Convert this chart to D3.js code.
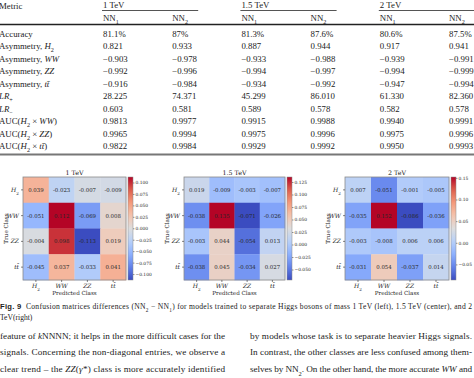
<!DOCTYPE html>
<html>
<head>
<meta charset="utf-8">
<script src="https://cdn.jsdelivr.net/npm/d3@7"></script>
<style>
  body { margin: 0; background: #fff; }
  svg { display: block; }
</style>
</head>
<body>
<div id="chart"></div>
<script>
// ---- table data ----
const metrics = [
  "Accuracy",
  "Asymmetry, <i>H</i><sub>2</sub>",
  "Asymmetry, <i>WW</i>",
  "Asymmetry, <i>ZZ</i>",
  "Asymmetry, <i>tt\u0304</i>",
  "<i>LR</i><sub>+</sub>",
  "<i>LR</i><sub>\u2212</sub>",
  "AUC(<i>H</i><sub>2</sub> \u00d7 <i>WW</i>)",
  "AUC(<i>H</i><sub>2</sub> \u00d7 <i>ZZ</i>)",
  "AUC(<i>H</i><sub>2</sub> \u00d7 <i>tt\u0304</i>)"
];
const energies = ["1 TeV", "1.5 TeV", "2 TeV"];
const nn1_1TeV = ["81.1%", "0.821", "\u22120.903", "\u22120.992", "\u22120.916", "28.225", "0.603", "0.9813", "0.9965", "0.9822"];
const nn2_1TeV = ["87%", "0.933", "\u22120.978", "\u22120.996", "\u22120.984", "74.371", "0.581", "0.9977", "0.9994", "0.9984"];
const nn1_15TeV = ["81.3%", "0.887", "\u22120.933", "\u22120.994", "\u22120.934", "45.299", "0.589", "0.9915", "0.9975", "0.9929"];
const nn2_15TeV = ["87.6%", "0.944", "\u22120.988", "\u22120.997", "\u22120.992", "86.010", "0.578", "0.9988", "0.9996", "0.9992"];
const nn1_2TeV = ["80.6%", "0.917", "\u22120.939", "\u22120.994", "\u22120.947", "61.330", "0.582", "0.9940", "0.9975", "0.9950"];
const nn2_2TeV = ["87.5%", "0.941", "\u22120.991", "\u22120.999", "\u22120.994", "82.360", "0.578", "0.9991", "0.9996", "0.9993"];

// ---- confusion matrix differences (NN2 - NN1), rows = true, cols = predicted ----
const classes = ["<i>H</i><sub>2</sub>", "<i>WW</i>", "<i>ZZ</i>", "<i>tt\u0304</i>"];
const diff1TeV = [
  [0.039, -0.023, -0.007, -0.009],
  [-0.051, 0.112, -0.069, 0.008],
  [-0.004, 0.098, -0.113, 0.019],
  [-0.045, 0.037, -0.033, 0.041]
];
const diff15TeV = [
  [0.019, -0.009, -0.003, -0.007],
  [-0.038, 0.135, -0.071, -0.026],
  [-0.003, 0.044, -0.054, 0.013],
  [-0.038, 0.045, -0.034, 0.027]
];
const diff2TeV = [
  [0.007, -0.051, -0.001, -0.005],
  [-0.035, 0.152, -0.086, -0.036],
  [-0.003, -0.008, 0.006, 0.006],
  [-0.031, 0.054, -0.037, 0.014]
];
const cbTicks1 = [-0.1, -0.075, -0.05, -0.025, 0, 0.025, 0.05, 0.075, 0.1];
const cbTicks15 = [-0.05, -0.025, 0, 0.025, 0.05, 0.075, 0.1, 0.125];
const cbTicks2 = [-0.05, 0, 0.05, 0.1, 0.15];

// coolwarm stops
const coolwarm = ["#3b4cc0", "#6282ea", "#8db0fe", "#b8d0f9", "#dddddd", "#f5c4ad", "#f49a7b", "#de604d", "#b40426"];

const W = 474, H = 378;
const serif = "'Liberation Serif', 'Times New Roman', serif";
const mplSerif = "'DejaVu Serif', serif";

const svg = d3.select("#chart").append("svg")
  .attr("width", W)
  .attr("height", H)
  .style("background", "#fff");

// tiny markup -> tspans
function rich(sel, str) {
  const re = /<(i|sub)>(.*?)<\/\1>|([^<]+)/g;
  let m;
  while ((m = re.exec(str))) {
    if (m[3]) sel.append("tspan").text(m[3]);
    else if (m[1] === "i") sel.append("tspan").style("font-style", "italic").text(m[2]);
    else sel.append("tspan").attr("baseline-shift", "sub").style("font-size", "70%").text(m[2]);
  }
  return sel;
}

// ================= table =================
const table = svg.append("g").style("font-family", serif).style("font-size", "8.8px").attr("fill", "#222");

const colData = [nn1_1TeV, nn2_1TeV, nn1_15TeV, nn2_15TeV, nn1_2TeV, nn2_2TeV];
const colX = d3.scalePoint().domain(d3.range(colData.length)).range([103, 449]);
const rowY = d3.scalePoint().domain(d3.range(metrics.length)).range([37, 149]);

table.append("text").attr("x", -1).attr("y", 8.5).text("Metric");

energies.forEach((e, i) => {
  const x0 = colX(i * 2);
  table.append("text").attr("x", x0).attr("y", 8).text(e);
  table.append("line")
    .attr("x1", x0 - 1).attr("x2", colX(i * 2 + 1) + 26)
    .attr("y1", 10.5).attr("y2", 10.5)
    .attr("stroke", "#555").attr("stroke-width", 1);
});

colData.forEach((col, j) => {
  rich(table.append("text").attr("x", colX(j)).attr("y", 20.5), j % 2 === 0 ? "NN<sub>1</sub>" : "NN<sub>2</sub>");
  table.selectAll(null)
    .data(col)
    .join("text")
    .attr("x", colX(j))
    .attr("y", (d, i) => rowY(i))
    .text(d => d);
});

table.append("line").attr("x1", 0).attr("x2", W).attr("y1", 24.5).attr("y2", 24.5)
  .attr("stroke", "#222").attr("stroke-width", 1.3);
table.append("line").attr("x1", 0).attr("x2", W).attr("y1", 154.5).attr("y2", 154.5)
  .attr("stroke", "#777").attr("stroke-width", 2);

metrics.forEach((m, i) => {
  rich(table.append("text").attr("x", -1).attr("y", rowY(i)), m);
});

// ================= heatmaps =================
const panels = [
  { title: "1 TeV", data: diff1TeV, ticks: cbTicks1, fmt: ".3f", x0: 23, w: 103 },
  { title: "1.5 TeV", data: diff15TeV, ticks: cbTicks15, fmt: ".3f", x0: 184, w: 101 },
  { title: "2 TeV", data: diff2TeV, ticks: cbTicks2, fmt: ".2f", x0: 345, w: 104 }
];
const hmTop = 177, hmH = 103;

panels.forEach(p => {
  const g = svg.append("g").style("font-family", mplSerif).attr("fill", "#222");
  const flat = p.data.flat();
  const lo = d3.min(flat), hi = d3.max(flat);
  const color = d3.scaleSequential(d3.piecewise(d3.interpolateRgb, coolwarm)).domain([lo, hi]);

  const x = d3.scaleBand().domain(d3.range(4)).range([p.x0, p.x0 + p.w]);
  const y = d3.scaleBand().domain(d3.range(4)).range([hmTop, hmTop + hmH]);

  const cells = p.data.flatMap((row, i) => row.map((v, j) => ({ i, j, v })));
  g.selectAll("rect.cell")
    .data(cells)
    .join("rect")
    .attr("class", "cell")
    .attr("x", d => x(d.j))
    .attr("y", d => y(d.i))
    .attr("width", x.bandwidth() + 0.3)
    .attr("height", y.bandwidth() + 0.3)
    .attr("fill", d => color(d.v));

  g.selectAll("text.val")
    .data(cells)
    .join("text")
    .attr("class", "val")
    .attr("x", d => x(d.j) + x.bandwidth() / 2)
    .attr("y", d => y(d.i) + y.bandwidth() / 2)
    .attr("text-anchor", "middle")
    .attr("dominant-baseline", "central")
    .style("font-size", "5.4px")
    .attr("fill", "#262626")
    .text(d => d3.format(".3f")(d.v).replace("\u2212", "-"));

  g.append("rect")
    .attr("x", p.x0).attr("y", hmTop).attr("width", p.w).attr("height", hmH)
    .attr("fill", "none").attr("stroke", "#8a8a8a").attr("stroke-width", 0.8);

  // axis ticks
  const yAxis = g.append("g").attr("transform", `translate(${p.x0},0)`)
    .call(d3.axisLeft(y).tickSize(2).tickPadding(2).tickFormat(() => ""));
  yAxis.select(".domain").remove();
  yAxis.selectAll(".tick line").attr("stroke", "#333").attr("stroke-width", 0.6);
  yAxis.selectAll(".tick").each(function (d) {
    rich(d3.select(this).append("text")
      .attr("x", -4).attr("dy", "0.35em")
      .attr("text-anchor", "end")
      .attr("fill", "#222")
      .style("font-size", "6px")
      .style("font-family", mplSerif), classes[d]);
  });

  const xAxis = g.append("g").attr("transform", `translate(0,${hmTop + hmH})`)
    .call(d3.axisBottom(x).tickSize(2).tickPadding(2).tickFormat(() => ""));
  xAxis.select(".domain").remove();
  xAxis.selectAll(".tick line").attr("stroke", "#333").attr("stroke-width", 0.6);
  xAxis.selectAll(".tick").each(function (d) {
    rich(d3.select(this).append("text")
      .attr("y", 8)
      .attr("text-anchor", "middle")
      .attr("fill", "#222")
      .style("font-size", "6px")
      .style("font-family", mplSerif), classes[d]);
  });

  g.append("text")
    .attr("x", p.x0 + p.w / 2).attr("y", 174.5)
    .attr("text-anchor", "middle")
    .style("font-size", "6.3px")
    .text(p.title);

  g.append("text")
    .attr("x", p.x0 + p.w / 2).attr("y", hmTop + hmH + 14.5)
    .attr("text-anchor", "middle")
    .style("font-size", "5.6px")
    .text("Predicted Class");

  g.append("text")
    .attr("transform", `translate(${p.x0 - 15},${hmTop + hmH / 2}) rotate(-90)`)
    .attr("text-anchor", "middle")
    .style("font-size", "5.6px")
    .text("True Class");

  // colorbar
  const cbX = p.x0 + p.w + 2, cbW = 5;
  const cy = d3.scaleLinear().domain([lo, hi]).range([hmTop + hmH, hmTop]);
  const gradId = "grad" + p.title.replace(/\W/g, "");
  const grad = svg.append("defs").append("linearGradient")
    .attr("id", gradId).attr("x1", 0).attr("x2", 0).attr("y1", 1).attr("y2", 0);
  grad.selectAll("stop")
    .data(d3.range(0, 1.0001, 0.05))
    .join("stop")
    .attr("offset", d => d)
    .attr("stop-color", d => color(lo + d * (hi - lo)));
  g.append("rect")
    .attr("x", cbX).attr("y", hmTop).attr("width", cbW).attr("height", hmH)
    .attr("fill", `url(#${gradId})`)
    .attr("stroke", "#8a8a8a").attr("stroke-width", 0.5);
  const cbAxis = g.append("g").attr("transform", `translate(${cbX + cbW},0)`)
    .call(d3.axisRight(cy).tickValues(p.ticks).tickSize(1.5).tickPadding(1).tickFormat(d3.format(p.fmt)));
  cbAxis.select(".domain").remove();
  cbAxis.selectAll(".tick line").attr("stroke", "#333").attr("stroke-width", 0.5);
  cbAxis.selectAll(".tick text")
    .attr("fill", "#222")
    .style("font-size", "4.4px")
    .style("font-family", mplSerif);
});

// ================= caption =================
const cap = svg.append("g").style("font-family", serif).style("font-size", "7.6px").attr("fill", "#222");
const capLine = cap.append("text").attr("x", 0).attr("y", 308.5);
capLine.append("tspan").style("font-family", "'Liberation Sans', Arial, sans-serif").style("font-weight", "bold").text("Fig. 9");
rich(capLine, "\u00a0 Confusion matrices differences (NN<sub>2</sub> \u2212 NN<sub>1</sub>) for models trained to separate Higgs bosons of mass 1 TeV (left), 1.5 TeV (center), and 2");
capLine.attr("textLength", 472).attr("lengthAdjust", "spacing");
cap.append("text").attr("x", 0).attr("y", 320).text("TeV(right)");

// ================= body text =================
const body = svg.append("g").style("font-family", serif).style("font-size", "9.2px").attr("fill", "#222");
const leftLines = [
  "feature of <i>k</i>NNNN; it helps in the more difficult cases for the",
  "signals. Concerning the non-diagonal entries, we observe a",
  "clear trend \u2013 the <i>ZZ</i>(<i>\u03b3</i>*) class is more accurately identified"
];
const rightLines = [
  "by models whose task is to separate heavier Higgs signals.",
  "In contrast, the other classes are less confused among them-",
  "selves by NN<sub>2</sub>. On the other hand, the more accurate <i>WW</i> and"
];
const lineY = d3.scalePoint().domain(d3.range(3)).range([338.5, 371.5]);
leftLines.forEach((l, i) => {
  rich(body.append("text").attr("x", 0).attr("y", lineY(i)), l)
    .attr("textLength", 225).attr("lengthAdjust", "spacing");
});
rightLines.forEach((l, i) => {
  rich(body.append("text").attr("x", 250).attr("y", lineY(i)), l)
    .attr("textLength", 222).attr("lengthAdjust", "spacing");
});
</script>
</body>
</html>
